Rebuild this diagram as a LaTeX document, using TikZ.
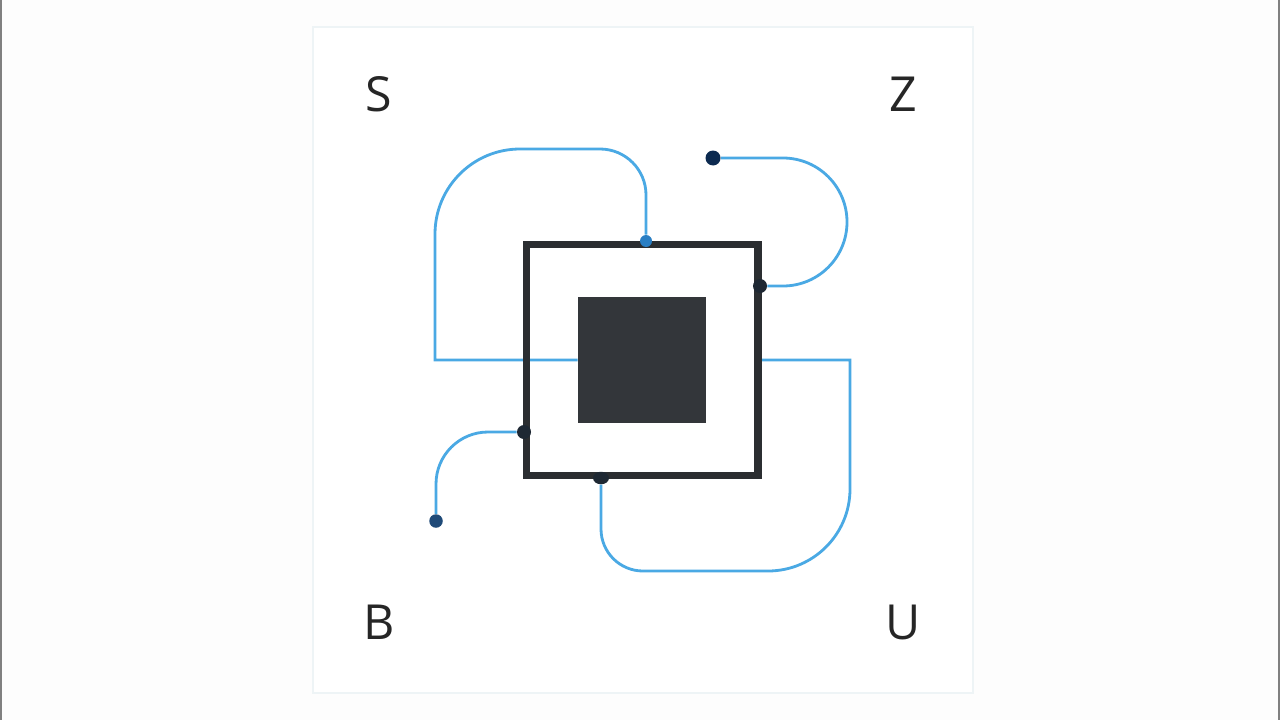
\documentclass[tikz,border=0pt]{standalone}
\usepackage{fontspec}
\usetikzlibrary{shapes.geometric}
\newfontfamily\labelfont{Open Sans}
\definecolor{wireblue}{HTML}{4AA9E4}
\definecolor{framegray}{HTML}{2B2E31}
\definecolor{chipgray}{HTML}{33363A}
\definecolor{pinnavy}{HTML}{0C2A50}
\definecolor{pindark}{HTML}{1E2833}
\definecolor{pinblue}{HTML}{2A7FC4}
\definecolor{pinsteel}{HTML}{1F4A78}
\definecolor{panelline}{HTML}{EEF4F6}
\pgfdeclarelayer{back}
\pgfdeclarelayer{wires}
\pgfsetlayers{back,wires,main}
\begin{document}
\begin{tikzpicture}[x=0.02cm, y=-0.02cm,
  wire/.style={draw=wireblue, line width=1.6pt},
  pin/.style={circle, fill=#1, inner sep=0pt, minimum size=0.27cm},
  corner/.style={font=\labelfont\fontsize{27.5}{30}\selectfont, text=black!85, inner sep=0pt}]

\useasboundingbox (0,0) rectangle (1280,720);
\begin{pgfonlayer}{back}
\fill[color=black!0.8] (0,0) rectangle (1280,720);
\draw[color=black!50, line width=1.2pt] (1,0) -- (1,720);
\draw[color=black!50, line width=1.2pt] (1279,0) -- (1279,720);
\draw[fill=white, draw=panelline, line width=0.6pt] (313,27) rectangle (973,693);
\end{pgfonlayer}

\node[draw=framegray, line width=4pt, minimum width=4.64cm, minimum height=4.64cm] (frame) at (642,360) {};
\node[fill=chipgray, minimum width=2.56cm, minimum height=2.52cm, inner sep=0pt] (chip) at (642,360) {};

\node[pin=pinblue, minimum size=0.24cm] (ptop) at (646,241) {};
\node[pin=pindark, minimum size=0.28cm] (pright) at (760,286) {};
\node[pin=pinnavy, minimum size=0.3cm] (pfree) at (713,158) {};
\node[pin=pindark, minimum size=0.28cm] (pleft) at (524,432) {};
\node[pin=pindark, ellipse, minimum width=0.32cm, minimum height=0.25cm] (pbottom) at (601,478) {};
\node[pin=pinsteel, minimum size=0.27cm] (pend) at (436,521) {};

\begin{pgfonlayer}{wires}
\draw[wire] (ptop) -- (646,195) arc[start angle=0, end angle=-90, radius=46] -- (520,149) arc[start angle=-90, end angle=-180, radius=85] -- (435,360) -- (chip.west);
\draw[wire] (frame.east) -- (850,360) -- (850,489) arc[start angle=0, end angle=90, radius=82] -- (643,571) arc[start angle=90, end angle=180, radius=42] -- (pbottom);
\draw[wire, rounded corners=1.28cm] (pfree) -- (847,158) -- (847,286) -- (pright);
\draw[wire, rounded corners=1.04cm] (pleft) -- (436,432) -- (pend);
\end{pgfonlayer}

\node[corner] (lblS) at (379,94) {S};
\node[corner] (lblZ) at (903,94) {Z};
\node[corner] (lblB) at (379,622) {B};
\node[corner] (lblU) at (903,622) {U};
\end{tikzpicture}
\end{document}
